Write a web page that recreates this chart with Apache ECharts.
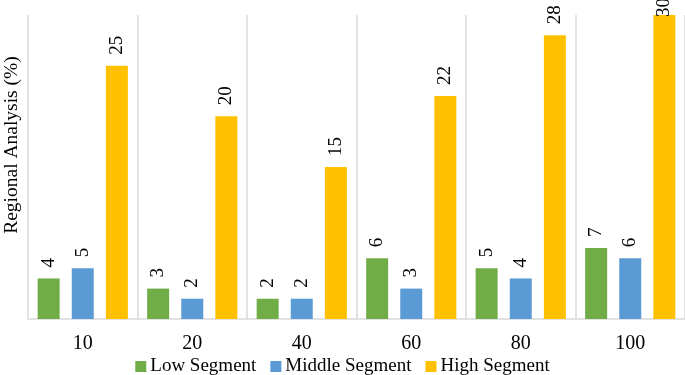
<!DOCTYPE html>
<html><head><meta charset="utf-8">
<script src="https://cdn.jsdelivr.net/npm/echarts@6/dist/echarts.min.js"></script>
<style>html,body{margin:0;padding:0;background:#fff}#c{width:685px;height:375px}</style>
</head><body><div id="c"></div>
<script>
const categories = ['10', '20', '40', '60', '80', '100'];
const lowSegment = [4, 3, 2, 6, 5, 7];
const middleSegment = [5, 2, 2, 3, 4, 6];
const highSegment = [25, 20, 15, 22, 28, 30];
const seriesNames = ['Low Segment', 'Middle Segment', 'High Segment'];
const colors = ['#70AD47', '#5B9BD5', '#FFC000'];
const yMax = 30;

const font = 'Liberation Serif';
const chart = echarts.init(document.getElementById('c'));
function mk(name, data, color) {
  return {
    name: name, type: 'bar', barWidth: 22, barGap: '55%',
    data: data.map(v => v >= yMax ? { value: v, label: { distance: -2 } } : v),
    itemStyle: { color: color },
    label: { show: true, position: 'top', rotate: 90, distance: 11, align: 'left', verticalAlign: 'middle',
      fontFamily: font, fontSize: 19, color: '#000' }
  };
}
chart.setOption({
  animation: false,
  textStyle: { fontFamily: font },
  grid: { left: 28, right: 0, top: 15, bottom: 56, outerBoundsMode: 'none' },
  legend: {
    data: seriesNames, left: 'center', top: 352, itemWidth: 11, itemHeight: 11, itemGap: 14,
    icon: 'rect', textStyle: { fontFamily: font, fontSize: 19, color: '#000', padding: [0, 0, 0, -1] }
  },
  xAxis: {
    type: 'category', data: categories,
    axisLine: { lineStyle: { color: '#d9d9d9', width: 1.5 } },
    axisTick: { show: false },
    splitLine: { show: true, lineStyle: { color: '#d9d9d9', width: 1.5 } },
    axisLabel: { fontFamily: font, fontSize: 20, color: '#000', margin: 15 }
  },
  yAxis: {
    type: 'value', min: 0, max: yMax,
    name: 'Regional Analysis (%)', nameLocation: 'middle', nameGap: 6,
    nameTextStyle: { fontFamily: font, fontSize: 19.5, color: '#000', padding: [0, 0, 0, 44] },
    axisLine: { show: false }, axisTick: { show: false }, axisLabel: { show: false },
    splitLine: { show: false }
  },
  series: [mk(seriesNames[0], lowSegment, colors[0]), mk(seriesNames[1], middleSegment, colors[1]), mk(seriesNames[2], highSegment, colors[2])]
});
</script></body></html>
